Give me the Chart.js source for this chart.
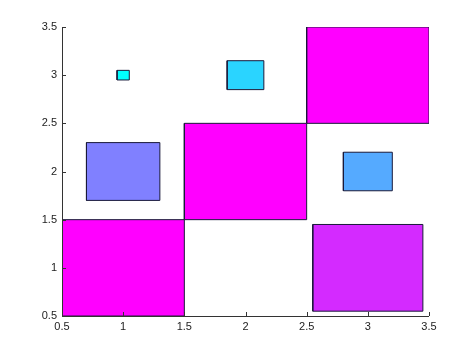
<!DOCTYPE html>
<html><head><meta charset="utf-8">
<script src="https://cdn.jsdelivr.net/npm/chart.js@4"></script>
<style>html,body{margin:0;padding:0;background:#fff;}canvas{display:block;}</style>
</head><body>
<canvas id="c" width="474" height="355"></canvas>
<script>
// rectangle data (x range, y range)
const rectX0 = [0.5, 1.5, 2.5, 0.7, 0.95, 1.85, 2.8, 2.55];
const rectX1 = [1.5, 2.5, 3.5, 1.3, 1.05, 2.15, 3.2, 3.45];
const rectY0 = [0.5, 1.5, 2.5, 1.7, 2.95, 2.85, 1.8, 0.55];
const rectY1 = [1.5, 2.5, 3.5, 2.3, 3.05, 3.15, 2.2, 1.45];
const rectColor = ['#ff00ff', '#ff00ff', '#ff00ff', '#8080ff', '#00ffff', '#2ad4ff', '#55aaff', '#d42aff'];
const tickValues = [0.5, 1, 1.5, 2, 2.5, 3, 3.5];

const datasets = rectX0.map((x0, i) => ({
  data: [
    {x: x0, y: rectY0[i]}, {x: rectX1[i], y: rectY0[i]},
    {x: rectX1[i], y: rectY1[i]}, {x: x0, y: rectY1[i]}, {x: x0, y: rectY0[i]}
  ],
  showLine: true, fill: 'shape', backgroundColor: rectColor[i],
  borderColor: '#1a1a3a', borderWidth: 1, pointRadius: 0, tension: 0
}));

const innerTicks = {
  id: 'innerTicks',
  afterDraw(chart) {
    const {ctx, chartArea: a, scales: {x, y}} = chart;
    ctx.save();
    ctx.strokeStyle = '#333'; ctx.lineWidth = 1;
    ctx.beginPath();
    ctx.moveTo(a.left + 0.5, a.top); ctx.lineTo(a.left + 0.5, a.bottom + 0.5); ctx.lineTo(a.right, a.bottom + 0.5);
    tickValues.forEach(v => {
      const px = Math.round(x.getPixelForValue(v)) + 0.5;
      ctx.moveTo(px, a.bottom); ctx.lineTo(px, a.bottom - 4);
      const py = Math.round(y.getPixelForValue(v)) + 0.5;
      ctx.moveTo(a.left, py); ctx.lineTo(a.left + 4, py);
    });
    ctx.stroke();
    ctx.restore();
  }
};

const font = {family: 'Liberation Sans, Arial, sans-serif', size: 11};
new Chart(document.getElementById('c'), {
  type: 'scatter',
  data: {datasets},
  options: {
    responsive: false, animation: false,
    layout: {padding: {left: 0, right: 45, top: 27, bottom: 0}},
    plugins: {legend: {display: false}, tooltip: {enabled: false}},
    scales: {
      x: {
        type: 'linear', min: 0.5, max: 3.5,
        afterBuildTicks(s) { s.ticks = tickValues.map(v => ({value: v})); },
        afterFit(s) { s.height = 39; },
        grid: {display: false, drawTicks: false}, border: {display: false},
        ticks: {font, color: '#222', padding: 4, maxRotation: 0, callback: v => String(v)}
      },
      y: {
        type: 'linear', min: 0.5, max: 3.5,
        afterBuildTicks(s) { s.ticks = tickValues.map(v => ({value: v})); },
        afterFit(s) { s.width = 62; },
        grid: {display: false, drawTicks: false}, border: {display: false},
        ticks: {font, color: '#222', padding: 5, callback: v => String(v)}
      }
    }
  },
  plugins: [innerTicks]
});
</script>
</body></html>
